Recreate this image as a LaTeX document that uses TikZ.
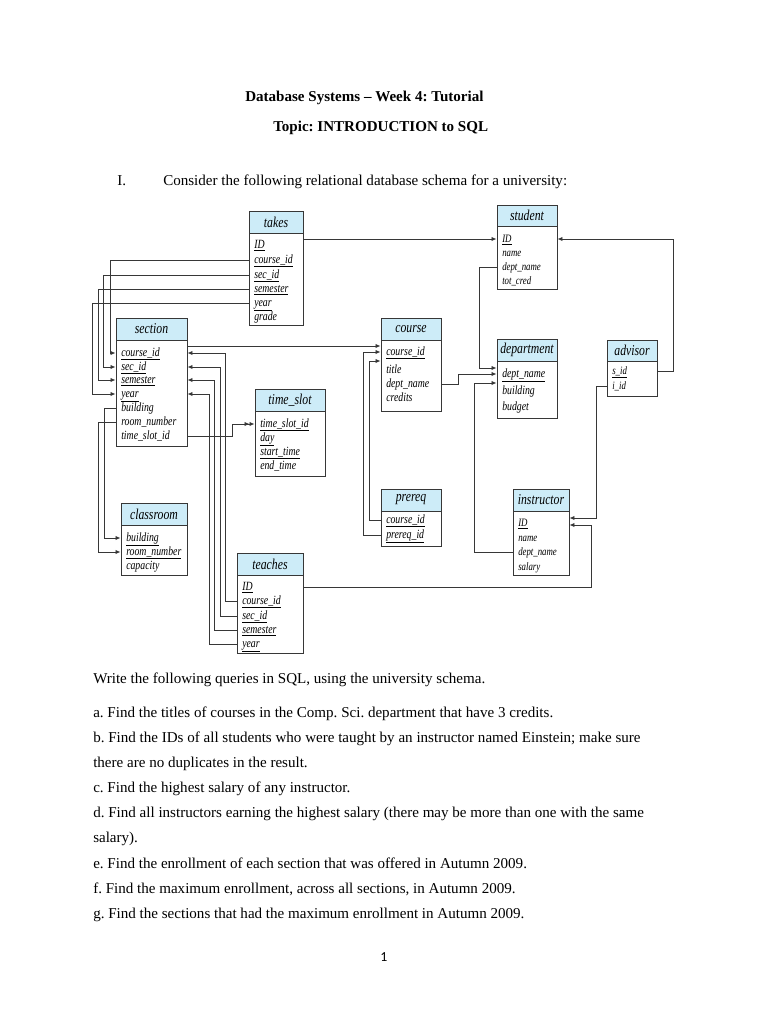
\documentclass[tikz,border=0pt]{standalone}
\usepackage{fontspec}
\setmainfont{Liberation Serif}
\newfontfamily\erfont{Liberation Serif}[FakeStretch=0.78]
\newfontfamily\numfont{Carlito}
\usetikzlibrary{arrows.meta}
\usetikzlibrary{fit}
\usetikzlibrary{calc}
\definecolor{hdrblue}{RGB}{205,236,248}
\definecolor{linegray}{RGB}{55,55,55}
\frenchspacing

\tikzset{
  hdr/.style={draw=linegray, fill=hdrblue, inner sep=0pt, line width=0.7pt},
  hdrtxt/.style={inner sep=0pt, font=\erfont\itshape\fontsize{12}{13}\selectfont},
  tbl/.style={draw=linegray, fill=white, inner sep=0pt, line width=0.7pt},
  attr/.style={anchor=west, inner sep=0pt, text height=6.5pt, text depth=1.5pt,
    font=\erfont\itshape\fontsize{10}{11}\selectfont},
  sattr/.style={attr, font=\erfont\itshape\fontsize{9}{10}\selectfont},
  fk/.style={draw=linegray, line width=0.7pt, -{Latex[length=4pt,width=3.4pt]}},
  fkk/.style={fk, -{Latex[length=4pt,width=3.4pt]Latex[length=4pt,width=3.4pt]}},
  txt/.style={anchor=base west, inner sep=0pt, font=\fontsize{12}{14}\selectfont},
}

% header and body of one relation
\newcommand{\dbtable}[7]{%
  \node[hdr, fit={(#2,#3) (#4,#5)}] (#1) {};
  \node[hdrtxt] (#1T) at (#1.center) {#7};
  \node[tbl, fit={(#2,#5) (#4,#6)}] (#1B) {};
}

\begin{document}
\begin{tikzpicture}[x=0.797pt,y=-0.797pt]
\fill[white] (0,0) rectangle (768,1024);
\useasboundingbox (0,0) rectangle (768,1024);

% page text
\node[txt, font=\bfseries\fontsize{12}{14}\selectfont] (title) at (245,101) {Database Systems -- Week 4: Tutorial};
\node[txt, font=\bfseries\fontsize{12}{14}\selectfont] (topic) at (273,131) {Topic: INTRODUCTION to SQL};
\node[txt] (num) at (117,185) {I.};
\node[txt] (intro) at (163,185) {Consider the following relational database schema for a university:};

% relations
\dbtable{takes}{249}{211}{303}{233}{325}{takes}
\node[attr] (takes-id) at (254,245) {\underline{ID}};
\node[attr] (takes-cid) at (254,260) {\underline{course\_id}};
\node[attr] (takes-sec) at (254,275) {\underline{sec\_id}};
\node[attr] (takes-sem) at (254,289) {\underline{semester}};
\node[attr] (takes-yr) at (254,303) {\underline{year}};
\node[attr] (takes-gr) at (254,317) {grade};

\dbtable{student}{497}{205}{557}{226}{289}{student}
\node[sattr] (student-id) at (502,239) {\underline{ID}};
\node[sattr] (student-nm) at (502,253) {name};
\node[sattr] (student-dn) at (502,267) {dept\_name};
\node[sattr] (student-tc) at (502,281) {tot\_cred};

\dbtable{section}{116}{318}{187}{340}{446}{section}
\node[attr] (section-cid) at (121,353) {\underline{course\_id}};
\node[attr] (section-sec) at (121,367) {\underline{sec\_id}};
\node[attr] (section-sem) at (121,380) {\underline{semester}};
\node[attr] (section-yr) at (121,394) {\underline{year}};
\node[attr] (section-bld) at (121,408) {building};
\node[attr] (section-room) at (121,422) {room\_number};
\node[attr] (section-tsid) at (121,436) {time\_slot\_id};

\dbtable{course}{381}{318}{441}{340}{411}{course}
\node[attr] (course-cid) at (386,352) {\underline{course\_id}};
\node[attr] (course-tt) at (386,370) {title};
\node[attr] (course-dn) at (386,384) {dept\_name};
\node[attr] (course-cr) at (386,398) {credits};

\dbtable{dept}{497}{339}{557}{361}{418}{department}
\node[attr] (dept-dn) at (502,374) {\underline{dept\_name}};
\node[attr] (dept-bld) at (502,391) {building};
\node[attr] (dept-bud) at (502,407) {budget};

\dbtable{advisor}{607}{340}{657}{361}{396}{advisor}
\node[sattr] (advisor-sid) at (612,371) {\underline{s\_id}};
\node[sattr] (advisor-iid) at (612,386) {i\_id};

\dbtable{timeslot}{255}{389}{325}{411}{476}{time\_slot}
\node[attr] (timeslot-id) at (260,424) {\underline{time\_slot\_id}};
\node[attr] (timeslot-day) at (260,438) {\underline{day}};
\node[attr] (timeslot-st) at (260,452) {\underline{start\_time}};
\node[attr] (timeslot-et) at (260,466) {end\_time};

\dbtable{classroom}{121}{503}{187}{525}{575}{classroom}
\node[attr] (classroom-bld) at (126,538) {\underline{building}};
\node[attr] (classroom-room) at (126,552) {\underline{room\_number}};
\node[attr] (classroom-cap) at (126,566) {capacity};

\dbtable{prereq}{381}{489}{441}{511}{546}{prereq}
\node[attr] (prereq-cid) at (386,520) {\underline{course\_id}};
\node[attr] (prereq-pid) at (386,535) {\underline{prereq\_id}};

\dbtable{inst}{513}{489}{569}{511}{575}{instructor}
\node[sattr] (inst-id) at (518,523) {\underline{ID}};
\node[sattr] (inst-nm) at (518,538) {name};
\node[sattr] (inst-dn) at (518,552) {dept\_name};
\node[sattr] (inst-sal) at (518,567) {salary};

\dbtable{teaches}{237}{553}{303}{575}{653}{teaches}
\node[attr] (teaches-id) at (242,587) {\underline{ID}};
\node[attr] (teaches-cid) at (242,601) {\underline{course\_id}};
\node[attr] (teaches-sec) at (242,616) {\underline{sec\_id}};
\node[attr] (teaches-sem) at (242,630) {\underline{semester}};
\node[attr] (teaches-yr) at (242,644) {\underline{year}};

% arrow ends that sit between two attributes
\coordinate (course-in1) at ($(course-cid)+(0,-6)$);
\coordinate (course-in3) at ($(course-cid)+(0,9)$);
\coordinate (dept-in1) at ($(dept-dn)+(0,-6)$);
\coordinate (dept-in3) at ($(dept-dn)+(0,9)$);
\coordinate (inst-in1) at ($(inst-id)+(0,-5)$);
\coordinate (inst-in2) at ($(inst-id)+(0,2)$);

% foreign keys
\draw[fk] (takesB.east |- student-id) -- (studentB.west |- student-id);
\draw[fk] (takesB.west |- takes-cid) -- ++(-138,0) |- (sectionB.west |- section-cid);
\draw[fk] (takesB.west |- takes-sec) -- ++(-145,0) |- (sectionB.west |- section-sec);
\draw[fk] (takesB.west |- takes-sem) -- ++(-150,0) |- (sectionB.west |- section-sem);
\draw[fk] (takesB.west |- takes-yr) -- ++(-156,0) |- (sectionB.west |- section-yr);

\draw[fk] (sectionB.east |- course-in1) -- (courseB.west |- course-in1);
\draw[fk] (prereqB.west |- prereq-pid) -- ++(-17,0) |- (courseB.west |- course-cid);
\draw[fk] (prereqB.west |- prereq-cid) -- ++(-11,0) |- (courseB.west |- course-in3);

\draw[fk] (teachesB.west |- teaches-cid) -- ++(-11,0) |- (sectionB.east |- section-cid);
\draw[fk] (teachesB.west |- teaches-sec) -- ++(-16,0) |- (sectionB.east |- section-sec);
\draw[fk] (teachesB.west |- teaches-sem) -- ++(-22,0) |- (sectionB.east |- section-sem);
\draw[fk] (teachesB.west |- teaches-yr) -- ++(-27,0) |- (sectionB.east |- section-yr);

\draw[fkk] (sectionB.east |- section-tsid) -- ++(45,0) |- (timeslotB.west |- timeslot-id);
\draw[fk] (sectionB.west |- section-bld) -- ++(-11,0) |- (classroomB.west |- classroom-bld);
\draw[fk] (sectionB.west |- section-room) -- ++(-17,0) |- (classroomB.west |- classroom-room);

\draw[fk] (courseB.east |- course-dn) -- ++(17,0) |- (deptB.west |- dept-dn);
\draw[fk] (studentB.west |- student-dn) -- ++(-17,0) |- (deptB.west |- dept-in1);
\draw[fk] (instB.west |- inst-dn) -- ++(-38,0) |- (deptB.west |- dept-in3);

\draw[fk] (advisorB.east |- advisor-sid) -- ++(16,0) |- (studentB.east |- student-id);
\draw[fk] (advisorB.west |- advisor-iid) -- ++(-10,0) |- (instB.east |- inst-in1);
\draw[fk] (teachesB.east |- teaches-id) -- ++(288,0) |- (instB.east |- inst-in2);

% questions
\node[txt] (q0) at (93,683) {Write the following queries in SQL, using the university schema.};
\node[txt] (qa) at (93,717) {a. Find the titles of courses in the Comp. Sci. department that have 3 credits.};
\node[txt] (qb) at (93,742) {b. Find the IDs of all students who were taught by an instructor named Einstein; make sure};
\node[txt] (qb2) at (93,767) {there are no duplicates in the result.};
\node[txt] (qc) at (93,792) {c. Find the highest salary of any instructor.};
\node[txt] (qd) at (93,817) {d. Find all instructors earning the highest salary (there may be more than one with the same};
\node[txt] (qd2) at (93,842) {salary).};
\node[txt] (qe) at (93,868) {e. Find the enrollment of each section that was offered in Autumn 2009.};
\node[txt] (qf) at (93,893) {f. Find the maximum enrollment, across all sections, in Autumn 2009.};
\node[txt] (qg) at (93,918) {g. Find the sections that had the maximum enrollment in Autumn 2009.};
\node[txt, font=\numfont\fontsize{11}{13}\selectfont] (page) at (380,961) {1};
\end{tikzpicture}
\end{document}
